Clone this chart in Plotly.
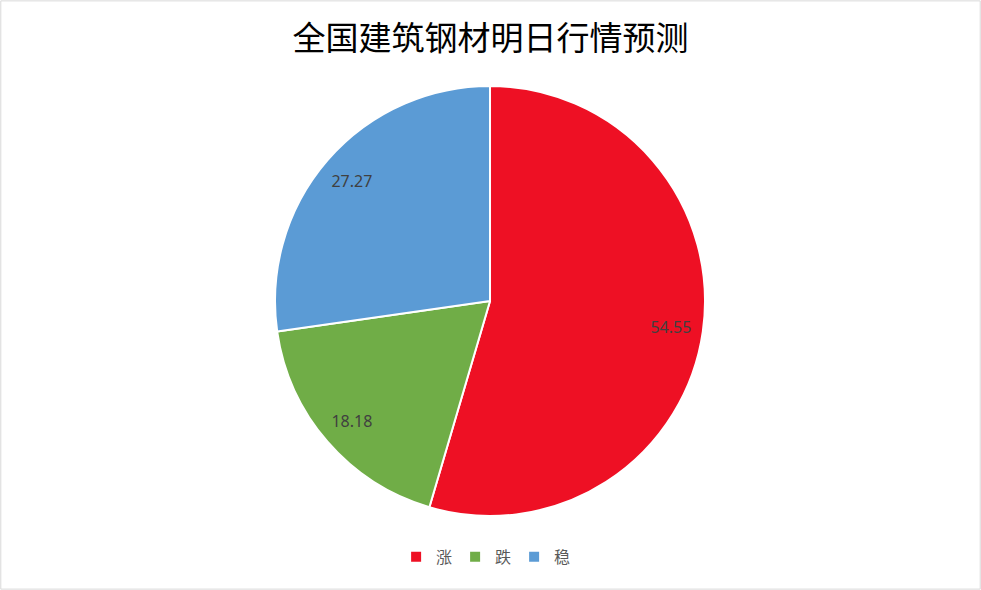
import plotly.graph_objects as go

# Data
labels = ['涨', '跌', '稳']
values = [54.55, 18.18, 27.27]
colors = ['#EE1024', '#70AD47', '#5B9BD5']

pie_domain = dict(x=[0.2803, 0.7187], y=[0.1254, 0.8542])

fig = go.Figure()

# Main pie
fig.add_trace(go.Pie(
    labels=labels,
    values=values,
    textinfo='none',
    marker=dict(colors=colors, line=dict(color='white', width=2)),
    sort=False,
    direction='clockwise',
    rotation=0,
    domain=pie_domain,
    hoverinfo='label+value',
))

# Transparent ring on top, used only to place the value labels near the rim
fig.add_trace(go.Pie(
    labels=labels,
    values=values,
    text=[f'{v:.2f}' for v in values],
    textinfo='text',
    textposition='inside',
    insidetextorientation='horizontal',
    textfont=dict(family='Noto Sans', size=16, color='#404040'),
    marker=dict(colors=['rgba(0,0,0,0)'] * 3, line=dict(width=0)),
    hole=0.70,
    sort=False,
    direction='clockwise',
    rotation=0,
    domain=pie_domain,
    showlegend=False,
    hoverinfo='skip',
))

fig.update_layout(
    width=981,
    height=590,
    margin=dict(l=0, r=0, t=0, b=0),
    paper_bgcolor='white',
    uniformtext=dict(minsize=16, mode='show'),
    title=dict(
        text='全国建筑钢材明日行情预测',
        font=dict(family='Noto Sans CJK SC', size=33, color='black'),
        x=0.5, xanchor='center', y=0.935, yanchor='middle',
    ),
    legend=dict(
        orientation='h', x=0.494, xanchor='center', y=0.056, yanchor='middle',
        font=dict(family='Noto Sans CJK SC', size=16, color='#595959'),
        entrywidth=14, entrywidthmode='pixels',
    ),
    shapes=[dict(type='rect', xref='paper', yref='paper',
                 x0=0.0008, y0=0.0015, x1=0.9992, y1=0.9985,
                 line=dict(color='#D9D9D9', width=1))],
)

fig.write_html('out.html', config={'displayModeBar': False},
               post_script="document.body.style.margin='0';")
